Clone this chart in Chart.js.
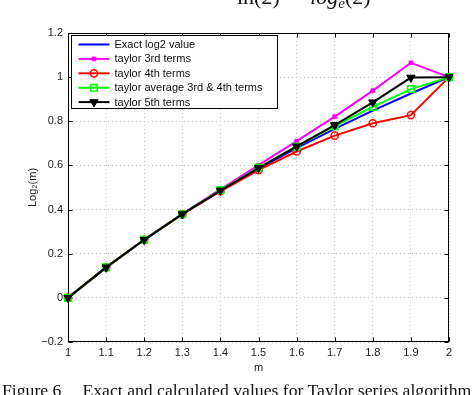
<!DOCTYPE html>
<html><head><meta charset="utf-8">
<script src="https://cdn.jsdelivr.net/npm/chart.js@4/dist/chart.umd.min.js"></script>
<style>
html,body{margin:0;padding:0;background:#fff;}
#wrap{position:relative;width:474px;height:395px;overflow:hidden;background:#fff;}
#c{position:absolute;left:0;top:0;}
.formula{position:absolute;left:237px;top:-14px;font:22px/22px "Liberation Serif",serif;white-space:nowrap;color:#111;}
.caption{position:absolute;left:2px;top:382px;font:17.7px/17px "Liberation Serif",serif;white-space:nowrap;color:#111;}
</style></head><body>
<div id="wrap">
<canvas id="c" width="474" height="395"></canvas>
<div class="formula">ln(2)<span style="margin:0 10px 0 8px">=</span><i>log</i><i style="font-size:15px;position:relative;top:4px">e</i>(2)</div>
<div class="caption"><span>Figure 6</span><span style="margin-left:21px">Exact and calculated values for Taylor series algorithm</span></div>
</div>
<script>
// ---- data ----
const mValues    = [1, 1.1, 1.2, 1.3, 1.4, 1.5, 1.6, 1.7, 1.8, 1.9, 2];
const exactLog2  = [0, 0.138, 0.263, 0.379, 0.485, 0.585, 0.678, 0.766, 0.848, 0.926, 1];
const taylor3rd  = [0, 0.138, 0.264, 0.381, 0.492, 0.601, 0.710, 0.821, 0.939, 1.065, 1];
const taylor4th  = [0, 0.138, 0.263, 0.378, 0.483, 0.579, 0.663, 0.735, 0.791, 0.828, 1];
const taylorAvg  = [0, 0.138, 0.263, 0.379, 0.488, 0.590, 0.686, 0.778, 0.865, 0.946, 1];
const taylor5th  = [0, 0.138, 0.263, 0.379, 0.486, 0.588, 0.686, 0.783, 0.886, 0.998, 1];
const seriesLabels = ['Exact log2 value', 'taylor 3rd terms', 'taylor 4th terms',
                      'taylor average 3rd & 4th terms', 'taylor 5th terms'];
const xTickValues = [1, 1.1, 1.2, 1.3, 1.4, 1.5, 1.6, 1.7, 1.8, 1.9, 2];
const xTickLabels = ['1', '1.1', '1.2', '1.3', '1.4', '1.5', '1.6', '1.7', '1.8', '1.9', '2'];
const yTickValues = [-0.2, 0, 0.2, 0.4, 0.6, 0.8, 1, 1.2];
const yTickLabels = ['\u22120.2', '0', '0.2', '0.4', '0.6', '0.8', '1', '1.2'];
const xTitle = 'm';
const yTitle = 'Log\u2082(m)';

const pts = arr => mValues.map((m, i) => ({x: m, y: arr[i]}));

const tickFont = {family: '"Liberation Sans", Arial, sans-serif', size: 11};

const framePlugin = {
  id: 'frame',
  beforeDatasetsDraw(chart) {
    const {ctx, chartArea: a, scales} = chart;
    ctx.save();
    ctx.strokeStyle = '#000';
    ctx.lineWidth = 1;
    const L = Math.round(a.left) + 0.5, R = Math.round(a.right) - 0.5;
    const T = Math.round(a.top) + 0.5, B = Math.round(a.bottom) - 0.5;
    ctx.strokeRect(L, T, R - L, B - T);
    ctx.beginPath();
    scales.x.ticks.forEach(t => {
      const px = Math.round(scales.x.getPixelForValue(t.value)) + 0.5;
      ctx.moveTo(px, B); ctx.lineTo(px, B - 4);
      ctx.moveTo(px, T); ctx.lineTo(px, T + 4);
    });
    scales.y.ticks.forEach(t => {
      const py = Math.round(scales.y.getPixelForValue(t.value)) + 0.5;
      ctx.moveTo(L, py); ctx.lineTo(L + 4, py);
      ctx.moveTo(R, py); ctx.lineTo(R - 4, py);
    });
    ctx.stroke();
    ctx.restore();
  }
};

const legendPlugin = {
  id: 'boxLegend',
  afterDatasetsDraw(chart) {
    const {ctx, chartArea: a} = chart;
    const x0 = Math.round(a.left) + 3.5, y0 = Math.round(a.top) + 2.5;
    const w = 206, h = 73;
    ctx.save();
    ctx.fillStyle = '#fff';
    ctx.fillRect(x0, y0, w, h);
    ctx.strokeStyle = '#000';
    ctx.lineWidth = 1;
    ctx.strokeRect(x0, y0, w, h);
    ctx.font = '11px "Liberation Sans", Arial, sans-serif';
    ctx.textBaseline = 'middle';
    chart.data.datasets.forEach((ds, i) => {
      const y = y0 + 9 + i * 14.4;
      ctx.strokeStyle = ds.borderColor;
      ctx.lineWidth = ds.borderWidth;
      ctx.beginPath();
      ctx.moveTo(x0 + 7, y); ctx.lineTo(x0 + 38, y);
      ctx.stroke();
      if (ds.pointRadius > 0) {
        ctx.fillStyle = ds.pointBackgroundColor;
        ctx.strokeStyle = ds.pointBorderColor;
        ctx.lineWidth = ds.pointBorderWidth;
        Chart.helpers.drawPoint(ctx, {
          pointStyle: ds.pointStyle, rotation: ds.pointRotation || 0,
          radius: ds.pointRadius, borderWidth: ds.pointBorderWidth
        }, x0 + 22.5, y);
      }
      ctx.fillStyle = '#111';
      ctx.fillText(ds.label, x0 + 43, y + 0.5);
    });
    ctx.restore();
  }
};

new Chart(document.getElementById('c'), {
  type: 'line',
  data: {
    datasets: [
      {label: seriesLabels[0], data: pts(exactLog2), borderColor: '#0000ff', borderWidth: 2,
       pointRadius: 0, order: 5, clip: false},
      {label: seriesLabels[1], data: pts(taylor3rd), borderColor: '#ff00ff', borderWidth: 2,
       pointStyle: 'rect', pointRadius: 2.6, pointBackgroundColor: '#ff00ff', pointBorderColor: '#ff00ff',
       pointBorderWidth: 1, order: 4, clip: false},
      {label: seriesLabels[2], data: pts(taylor4th), borderColor: '#ff0000', borderWidth: 2,
       pointStyle: 'circle', pointRadius: 3.6, pointBackgroundColor: 'rgba(255,255,255,0)', pointBorderColor: '#ff0000',
       pointBorderWidth: 1.5, order: 3, clip: false},
      {label: seriesLabels[3], data: pts(taylorAvg), borderColor: '#00ff00', borderWidth: 2,
       pointStyle: 'rect', pointRadius: 4.6, pointBackgroundColor: 'rgba(255,255,255,0)', pointBorderColor: '#00ff00',
       pointBorderWidth: 1.6, order: 2, clip: false},
      {label: seriesLabels[4], data: pts(taylor5th), borderColor: '#000000', borderWidth: 2,
       pointStyle: 'triangle', pointRotation: 180, pointRadius: 4.8, pointBackgroundColor: '#000000', pointBorderColor: '#000000',
       pointBorderWidth: 1, order: 1, clip: false}
    ]
  },
  options: {
    responsive: false,
    devicePixelRatio: 1,
    animation: false,
    events: [],
    layout: {padding: {left: 0, top: 33, right: 25, bottom: 0}},
    plugins: {legend: {display: false}, tooltip: {enabled: false}},
    elements: {line: {tension: 0}},
    scales: {
      x: {
        type: 'linear', min: 1, max: 2,
        afterBuildTicks: s => { s.ticks = xTickValues.map(v => ({value: v})); },
        afterFit: s => { s.height = 53; },
        ticks: {font: tickFont, color: '#1a1a1a', padding: 4, maxRotation: 0, autoSkip: false,
                callback: (v, i) => xTickLabels[i]},
        grid: {color: '#c4c4c4', lineWidth: 1, drawTicks: false},
        border: {display: false, dash: [1, 3]},
        title: {display: true, text: xTitle, font: tickFont, color: '#1a1a1a', padding: {top: 0, bottom: 20}}
      },
      y: {
        type: 'linear', min: -0.2, max: 1.2,
        afterBuildTicks: s => { s.ticks = yTickValues.map(v => ({value: v})); },
        afterFit: s => { s.width = 68; },
        ticks: {font: tickFont, color: '#1a1a1a', padding: 5, autoSkip: false,
                callback: (v, i) => yTickLabels[i]},
        grid: {color: '#c4c4c4', lineWidth: 1, drawTicks: false},
        border: {display: false, dash: [1, 3]},
        title: {display: true, text: yTitle, font: tickFont, color: '#1a1a1a', padding: {top: 26, bottom: 0}}
      }
    }
  },
  plugins: [framePlugin, legendPlugin]
});
</script>
</body></html>
